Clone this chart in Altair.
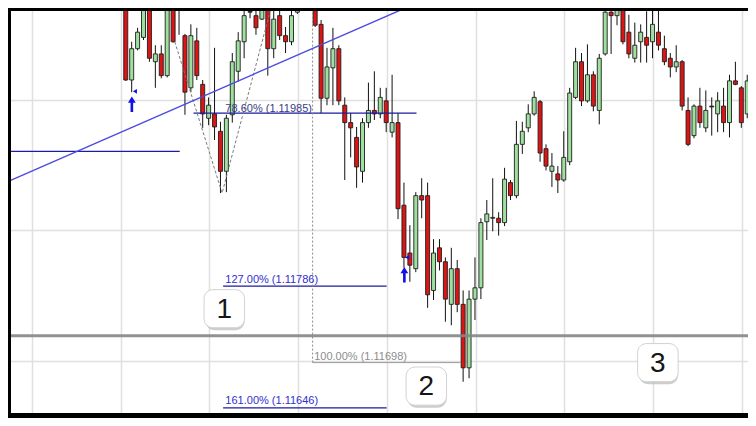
import altair as alt
import pandas as pd

# ---------------- candle data (EUR/USD style prices) ----------------
candle_index = list(range(-2, 106))
opens = [1.12138, 1.12149, 1.12127, 1.12023, 1.12059, 1.12072, 1.12121, 1.12044, 1.12053, 1.12028,
         1.12121, 1.12132, 1.12074, 1.12014, 1.12068, 1.12018, 1.11979, 1.11984, 1.11964, 1.11918,
         1.11983, 1.12033, 1.12067, 1.12102, 1.12097, 1.12093, 1.12121, 1.12059, 1.12097, 1.12074,
         1.12067, 1.12101, 1.12127, 1.12132, 1.12127, 1.12087, 1.12002, 1.12037, 1.12059, 1.11994,
         1.11974, 1.11957, 1.11918, 1.11974, 1.11988, 1.11984, 1.11999, 1.11963, 1.11974, 1.11879,
         1.11824, 1.11806, 1.11890, 1.11890, 1.11781, 1.11830, 1.11814, 1.11765, 1.11806, 1.11765,
         1.11692, 1.11771, 1.11784, 1.11860, 1.11864, 1.11864, 1.11859, 1.11905, 1.11890, 1.11949,
         1.11968, 1.11984, 1.11998, 1.11944, 1.11918, 1.11915, 1.11908, 1.11929, 1.12003, 1.12044,
         1.11999, 1.12029, 1.11988, 1.12053, 1.12101, 1.12097, 1.12118, 1.12078, 1.12048, 1.12067,
         1.12072, 1.12067, 1.12078, 1.12059, 1.12048, 1.12038, 1.12044, 1.11988, 1.11959, 1.11993,
         1.11968, 1.11993, 1.11984, 1.11993, 1.11974, 1.12022, 1.12014, 1.11984]
highs = [1.12144, 1.12155, 1.12132, 1.12067, 1.12083, 1.12127, 1.12127, 1.12063, 1.12063, 1.12127,
         1.12127, 1.12138, 1.12076, 1.12087, 1.12083, 1.12023, 1.12003, 1.12060, 1.11975, 1.11983,
         1.12054, 1.12078, 1.12107, 1.12112, 1.12115, 1.12127, 1.12127, 1.12103, 1.12109, 1.12084,
         1.12121, 1.12132, 1.12138, 1.12144, 1.12132, 1.12092, 1.12060, 1.12083, 1.12063, 1.12003,
         1.11985, 1.11969, 1.11979, 1.12020, 1.12033, 1.12014, 1.12014, 1.12029, 1.11985, 1.11905,
         1.11856, 1.11894, 1.11910, 1.11905, 1.11840, 1.11840, 1.11819, 1.11830, 1.11816, 1.11781,
         1.11781, 1.11819, 1.11864, 1.11885, 1.11910, 1.11871, 1.11922, 1.11908, 1.11976, 1.11975,
         1.11995, 1.12010, 1.12000, 1.11949, 1.11939, 1.11924, 1.11964, 1.12014, 1.12060, 1.12054,
         1.12064, 1.12033, 1.12053, 1.12112, 1.12109, 1.12127, 1.12124, 1.12098, 1.12089, 1.12087,
         1.12102, 1.12112, 1.12115, 1.12074, 1.12054, 1.12063, 1.12046, 1.12003, 1.11995, 1.12014,
         1.12011, 1.12003, 1.12009, 1.12014, 1.12029, 1.12044, 1.12016, 1.12029]
lows = [1.12109, 1.12132, 1.12022, 1.12009, 1.12057, 1.12069, 1.12044, 1.12014, 1.12025, 1.12026,
        1.12066, 1.12075, 1.11983, 1.12009, 1.12023, 1.11968, 1.11971, 1.11954, 1.11893, 1.11894,
        1.11974, 1.12021, 1.12048, 1.12094, 1.12075, 1.12092, 1.12028, 1.12048, 1.12069, 1.12054,
        1.12063, 1.12099, 1.12121, 1.12121, 1.12084, 1.11985, 1.11994, 1.11994, 1.11994, 1.11908,
        1.11934, 1.11899, 1.11905, 1.11968, 1.11977, 1.11979, 1.11963, 1.11957, 1.11863, 1.11807,
        1.11791, 1.11802, 1.11864, 1.11761, 1.11770, 1.11804, 1.11745, 1.11741, 1.11756, 1.11676,
        1.11680, 1.11747, 1.11771, 1.11839, 1.11849, 1.11844, 1.11855, 1.11885, 1.11887, 1.11938,
        1.11963, 1.11982, 1.11929, 1.11919, 1.11900, 1.11893, 1.11906, 1.11925, 1.12001, 1.11993,
        1.11997, 1.11987, 1.11972, 1.12051, 1.12053, 1.12086, 1.12064, 1.12048, 1.12043, 1.12043,
        1.12043, 1.12048, 1.12057, 1.12040, 1.12026, 1.12032, 1.11988, 1.11947, 1.11956, 1.11968,
        1.11963, 1.11959, 1.11963, 1.11963, 1.11957, 1.12017, 1.11968, 1.11979]
closes = [1.12127, 1.12138, 1.12023, 1.12059, 1.12078, 1.12121, 1.12048, 1.12053, 1.12028, 1.12121,
          1.12067, 1.12121, 1.12009, 1.12074, 1.12028, 1.11984, 1.11994, 1.11969, 1.11918, 1.11979,
          1.12044, 1.12068, 1.12097, 1.12101, 1.12083, 1.12121, 1.12059, 1.12093, 1.12074, 1.12067,
          1.12097, 1.12121, 1.12132, 1.12127, 1.12086, 1.12002, 1.12038, 1.12059, 1.11999, 1.11974,
          1.11968, 1.11923, 1.11974, 1.11988, 1.11984, 1.12003, 1.11974, 1.11974, 1.11875, 1.11819,
          1.11810, 1.11890, 1.11885, 1.11776, 1.11824, 1.11814, 1.11771, 1.11806, 1.11765, 1.11692,
          1.11771, 1.11784, 1.11859, 1.11869, 1.11865, 1.11859, 1.11909, 1.11890, 1.11949, 1.11964,
          1.11984, 1.12003, 1.11939, 1.11924, 1.11924, 1.11908, 1.11934, 1.12008, 1.12044, 1.11999,
          1.12029, 1.11993, 1.12048, 1.12101, 1.12097, 1.12118, 1.12067, 1.12053, 1.12063, 1.12078,
          1.12063, 1.12087, 1.12063, 1.12044, 1.12038, 1.12044, 1.11993, 1.11949, 1.11993, 1.11974,
          1.11988, 1.11992, 1.11999, 1.11974, 1.12022, 1.12018, 1.11974, 1.12022]
assert len(candle_index) == len(opens) == len(highs) == len(lows) == len(closes)

# ---------------- annotations ----------------
fib_labels = ["78.60% (1.11985)", "127.00% (1.11786)", "161.00% (1.11646)"]
fib_prices = [1.11985, 1.11786, 1.11646]
fib_from = [11.45, 16.45, 16.45]
fib_to = [49.12, 44.07, 44.07]
fib_text_at = [16.83, 16.83, 16.83]

ext_label = "100.00% (1.11698)"
ext_price = 1.11698
ext_from = 31.57
ext_to = 56.53
ext_top = 1.12125

support_price = 1.11729            # thick grey horizontal level
left_level_price = 1.11941
left_level_to = 9.12
trend_x = [-20.0, 50.0]
trend_p = [1.11906, 1.12114]

zigzag_x = [8.28, 16.28, 24.9]
zigzag_p = [1.12067, 1.11893, 1.12115]

arrow_x = [1.03, 47.07]
arrow_p = [1.11995, 1.11799]
marker_x = [1.55, 47.55]
marker_p = [1.12010, 1.11819]

box_labels = ["1", "2", "3"]
box_x = [16.65, 50.78, 89.9]
box_p = [1.11760, 1.11671, 1.11698]

grid_x = [-15.88, -0.88, 14.12, 29.12, 44.12, 59.12, 74.12, 89.12, 104.12]
grid_p = [1.1170, 1.1185, 1.1200]

# ---------------- scales / axes ----------------
xs = alt.Scale(domain=[-19.05, 104.283], nice=False, zero=False)
ys = alt.Scale(domain=[1.116343, 1.121058], nice=False, zero=False)
x_axis = alt.Axis(values=grid_x, grid=True, labels=False, ticks=False, domain=False,
                  title=None, gridColor="#e0e0e0", gridWidth=1.5)
y_axis = alt.Axis(values=grid_p, grid=True, labels=False, ticks=False, domain=False,
                  title=None, gridColor="#e0e0e0", gridWidth=1.5)

df = pd.DataFrame({"idx": candle_index, "open": opens, "high": highs,
                   "low": lows, "close": closes})

X = lambda f: alt.X(f, type="quantitative", scale=xs, axis=x_axis)
Y = lambda f: alt.Y(f, type="quantitative", scale=ys, axis=y_axis)

wicks = alt.Chart(df).mark_rule(color="#111111", strokeWidth=1, clip=True).encode(
    x=X("idx"), y=Y("low"), y2="high:Q")

bodies = alt.Chart(df).mark_bar(size=4, stroke="#1e1e1e", strokeWidth=0.9, clip=True).encode(
    x=X("idx"),
    y=Y("open"),
    y2="close:Q",
    color=alt.condition("datum.close >= datum.open", alt.value("#9fe09f"), alt.value("#dd1414")),
)

# trend line and left horizontal line
trend_df = pd.DataFrame({"x": trend_x, "p": trend_p})
trend = alt.Chart(trend_df).mark_line(color="#4c4ce0", strokeWidth=1.4, clip=True).encode(
    x=X("x"), y=Y("p"))

left_df = pd.DataFrame({"x": [-20.0], "x2": [left_level_to], "p": [left_level_price]})
left_line = alt.Chart(left_df).mark_rule(color="#1c1ca6", strokeWidth=1.3, clip=True).encode(
    x=X("x"), x2="x2:Q", y=Y("p"))

# fib lines
fib_df = pd.DataFrame({"label": fib_labels, "p": fib_prices, "x": fib_from, "x2": fib_to,
                       "tx": fib_text_at})
fib_lines = alt.Chart(fib_df).mark_rule(color="#1a1aa0", strokeWidth=1.2, clip=True).encode(
    x=X("x"), x2="x2:Q", y=Y("p"))
fib_text_top = alt.Chart(fib_df.iloc[:1]).mark_text(
    align="left", baseline="alphabetic", dy=-1.5, fontSize=11, font="Liberation Sans",
    color="#3a3a86").encode(x=X("tx"), y=Y("p"), text="label:N")
fib_text_rest = alt.Chart(fib_df.iloc[1:]).mark_text(
    align="left", baseline="alphabetic", dy=-3.5, fontSize=11, font="Liberation Sans",
    color="#2f2fcf").encode(x=X("tx"), y=Y("p"), text="label:N")

# 100% extension (grey)
ext_df = pd.DataFrame({"x": [ext_from], "x2": [ext_to], "p": [ext_price], "ptop": [ext_top],
                       "label": [ext_label], "tx": [ext_from + 0.27]})
ext_h = alt.Chart(ext_df).mark_rule(color="#9a9a9a", strokeWidth=1).encode(
    x=X("x"), x2="x2:Q", y=Y("p"))
ext_v = alt.Chart(ext_df).mark_rule(color="#8a8a8a", strokeWidth=1, strokeDash=[2, 2],
                                    clip=True).encode(x=X("x"), y=Y("p"), y2="ptop:Q")
ext_text = alt.Chart(ext_df).mark_text(
    align="left", baseline="alphabetic", dy=-2.5, fontSize=11, font="Liberation Sans",
    color="#8c8c8c").encode(x=X("tx"), y=Y("p"), text="label:N")

# zigzag dashed
zz_df = pd.DataFrame({"x": zigzag_x, "p": zigzag_p, "o": [0, 1, 2]})
zigzag = alt.Chart(zz_df).mark_line(color="#7a7a7a", strokeWidth=1, strokeDash=[3, 2],
                                    clip=True).encode(x=X("x"), y=Y("p"), order="o:Q")

# thick grey support
sup_df = pd.DataFrame({"p": [support_price]})
support = alt.Chart(sup_df).mark_rule(color="#858585", strokeWidth=3, opacity=0.9).encode(
    y=Y("p"))

# arrows
arrow_path = "M0,-1 L0.5,-0.2 L0.17,-0.2 L0.17,1 L-0.17,1 L-0.17,-0.2 L-0.5,-0.2 Z"
arr_df = pd.DataFrame({"x": arrow_x, "p": arrow_p})
arrows = alt.Chart(arr_df).mark_point(shape=arrow_path, filled=True, size=240,
                                      color="#1212e8", opacity=1).encode(x=X("x"), y=Y("p"))
mk_df = pd.DataFrame({"x": marker_x, "p": marker_p})
markers = alt.Chart(mk_df).mark_point(shape="triangle-left", filled=True, size=22,
                                      color="#1212e8", opacity=1).encode(x=X("x"), y=Y("p"))

# numbered boxes
box_df = pd.DataFrame({"label": box_labels, "x": box_x, "p": box_p})
box_base = alt.Chart(box_df).transform_calculate(
    x1="datum.x - 3.42", x2="datum.x + 3.42",
    p1="datum.p - 0.000219", p2="datum.p + 0.000219")
box_shadow = box_base.mark_rect(cornerRadius=9, color="#b8b8b8", opacity=0.7,
                                xOffset=1.5, yOffset=2.5).encode(
    x=X("x1"), x2="x2:Q", y=Y("p1"), y2="p2:Q")
box_rect = box_base.mark_rect(cornerRadius=9, fill="#ffffff", stroke="#d2d2d2",
                              strokeWidth=1).encode(
    x=X("x1"), x2="x2:Q", y=Y("p1"), y2="p2:Q")
box_text = alt.Chart(box_df).mark_text(fontSize=28, font="Liberation Sans", color="#161616",
                                       align="center", baseline="middle", dy=1).encode(
    x=X("x"), y=Y("p"), text="label:N")

# black frame (top, left, bottom)
frame_df = pd.DataFrame({"a": [0]})
frame_top = alt.Chart(frame_df).mark_rule(color="#000000", strokeWidth=3).encode(
    x=alt.value(0), x2=alt.value(740), y=alt.value(1.5))
frame_left = alt.Chart(frame_df).mark_rule(color="#000000", strokeWidth=3).encode(
    x=alt.value(1.5), y=alt.value(0), y2=alt.value(410))
frame_bottom = alt.Chart(frame_df).mark_rule(color="#000000", strokeWidth=5).encode(
    x=alt.value(0), x2=alt.value(740), y=alt.value(407.5))

chart = alt.layer(
    wicks, bodies, left_line, fib_lines, ext_h, ext_v, zigzag, trend, support,
    fib_text_top, fib_text_rest, ext_text, arrows, markers,
    box_shadow, box_rect, box_text, frame_top, frame_left, frame_bottom,
).properties(
    width=740, height=410, padding=0, autosize=alt.AutoSizeParams(type="none"),
    background="#ffffff",
).configure_view(stroke=None)

chart.save("out.html", embed_options={"renderer": "svg", "actions": False})
